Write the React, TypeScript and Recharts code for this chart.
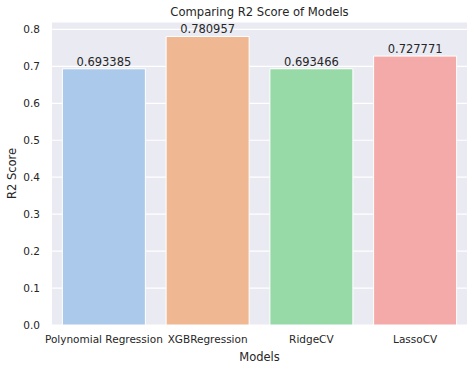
import { BarChart, Bar, XAxis, YAxis, CartesianGrid, LabelList, Cell } from 'recharts';

const models = ['Polynomial Regression', 'XGBRegression', 'RidgeCV', 'LassoCV'];
const r2Scores = [0.693385, 0.780957, 0.693466, 0.727771];
const yTicks = [0, 0.1, 0.2, 0.3, 0.4, 0.5, 0.6, 0.7, 0.8];
const COLORS = ['#abc9ea', '#efb792', '#98daa7', '#f3aaa8'];

const FONT = '"DejaVu Sans", sans-serif';
const TEXT = '#262626';

const data = models.map((name, i) => ({ name, score: r2Scores[i] }));

export default function App() {
    return (
        <div style={{ position: 'absolute', top: 0, left: 0, width: 474, height: 369, background: '#fff', fontFamily: FONT }}>
            <div
                style={{
                    position: 'absolute', top: 5, left: 52, width: 415, textAlign: 'center',
                    fontSize: 11.6, lineHeight: '14px', color: TEXT,
                }}
            >
                Comparing R2 Score of Models
            </div>
            <BarChart
                width={474}
                height={369}
                data={data}
                margin={{ top: 22, right: 7, left: 0, bottom: 0 }}
                barCategoryGap="10%"
            >
                <CartesianGrid fill="#eaeaf2" stroke="#ffffff" strokeWidth={1.2} vertical={false} />
                <XAxis
                    dataKey="name"
                    height={44}
                    axisLine={false}
                    tickLine={false}
                    tickSize={0}
                    tickMargin={11}
                    interval={0}
                    tick={{ fill: TEXT, fontSize: 10.5, fontFamily: FONT }}
                    label={{ value: 'Models', position: 'insideBottom', offset: 8, fill: TEXT, fontSize: 11.5, fontFamily: FONT }}
                />
                <YAxis
                    width={52}
                    domain={[0, 0.82]}
                    ticks={yTicks}
                    axisLine={false}
                    tickLine={false}
                    tickSize={0}
                    tickMargin={12}
                    tickFormatter={(v: number) => v.toFixed(1)}
                    tick={{ fill: TEXT, fontSize: 10.5, fontFamily: FONT }}
                    label={{
                        content: ({ viewBox }: any) => {
                            const cx = viewBox.x + 15.5;
                            const cy = viewBox.y + viewBox.height / 2;
                            return (
                                <text
                                    x={cx}
                                    y={cy}
                                    transform={`rotate(-90, ${cx}, ${cy})`}
                                    textAnchor="middle"
                                    fill={TEXT}
                                    fontSize={11.5}
                                    fontFamily={FONT}
                                >
                                    R2 Score
                                </text>
                            );
                        },
                    }}
                />
                <Bar dataKey="score" isAnimationActive={false} stroke="#ffffff" strokeWidth={1}>
                    {data.map((_, i) => (
                        <Cell key={`cell-${i}`} fill={COLORS[i % COLORS.length]} />
                    ))}
                    <LabelList
                        dataKey="score"
                        position="top"
                        offset={3}
                        formatter={(v: any) => String(v)}
                        style={{ fill: TEXT, fontSize: 11.5, fontFamily: FONT }}
                    />
                </Bar>
            </BarChart>
        </div>
    );
}
